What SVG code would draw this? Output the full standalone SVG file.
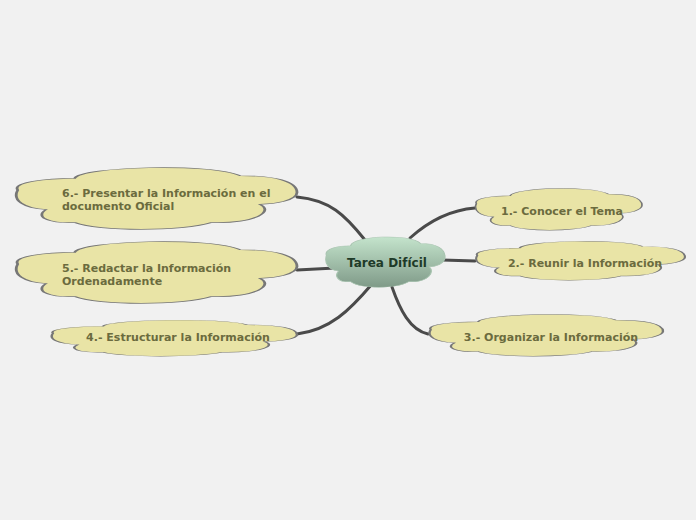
<svg xmlns="http://www.w3.org/2000/svg" width="696" height="520" viewBox="0 0 696 520">
<defs>
<linearGradient id="g" x1="0" y1="0" x2="0" y2="1"><stop offset="0" stop-color="#c4e4cc"/><stop offset="1" stop-color="#7f9a88"/></linearGradient>
<path id="cl" d="M2,40 C0,28 12,22 22,22 C24,4 70,-2 80,18 C92,18 100,26 100,44 C100,56 92,62 87,62 C92,72 86,92 70,90 C60,104 30,104 22,90 C12,92 8,80 12,70 C4,68 0,56 2,40 Z"/>
</defs>
<style>
.n use{fill:#e9e4a6;stroke:#777;stroke-width:1;vector-effect:non-scaling-stroke}
.n text{font-family:"DejaVu Sans",sans-serif;font-weight:bold;font-size:11px;fill:#6b6b3e}
.c path{fill:none;stroke:#4a4a4a;stroke-width:3;stroke-linecap:round}
</style>
<rect width="696" height="520" fill="#f1f1f1"/>
<g class="c">
<path d="M365,240 C345,215 330,200 297,197"/>
<path d="M335,268 L297,270"/>
<path d="M410,238 C430,220 450,210 475,208"/>
<path d="M442,260 L475,261"/>
<path d="M392,287 C400,310 410,330 428,334"/>
<path d="M372,284 C350,310 330,330 297,334"/>
</g>
<g id="center"><use href="#cl" transform="translate(324,234) scale(1.21,0.53)" fill="url(#g)" stroke="#a8c4b0"/><text x="387" y="267" text-anchor="middle" style="font-family:'DejaVu Sans',sans-serif;font-weight:bold;font-size:12px;fill:#1e3a28">Tarea Difícil</text></g>
<g id="n1" class="n"><use href="#cl" transform="translate(473,186) scale(1.69,0.44)"/><text x="562" y="215" text-anchor="middle">1.- Conocer el Tema</text></g>
<g id="n2" class="n"><use href="#cl" transform="translate(473,239) scale(2.12,0.41)"/><text x="585" y="267" text-anchor="middle">2.- Reunir la Información</text></g>
<g id="n3" class="n"><use href="#cl" transform="translate(426,312) scale(2.37,0.44)"/><text x="551" y="341" text-anchor="middle">3.- Organizar la Información</text></g>
<g id="n4" class="n"><use href="#cl" transform="translate(48,318) scale(2.49,0.38)"/><text x="178" y="341" text-anchor="middle">4.- Estructurar la Información</text></g>
<g id="n5" class="n"><use href="#cl" transform="translate(12,238) scale(2.85,0.65)"/><text x="62" y="272">5.- Redactar la Información</text><text x="62" y="285">Ordenadamente</text></g>
<g id="n6" class="n"><use href="#cl" transform="translate(12,164) scale(2.85,0.65)"/><text x="62" y="197">6.- Presentar la Información en el</text><text x="62" y="210">documento Oficial</text></g>
</svg>
